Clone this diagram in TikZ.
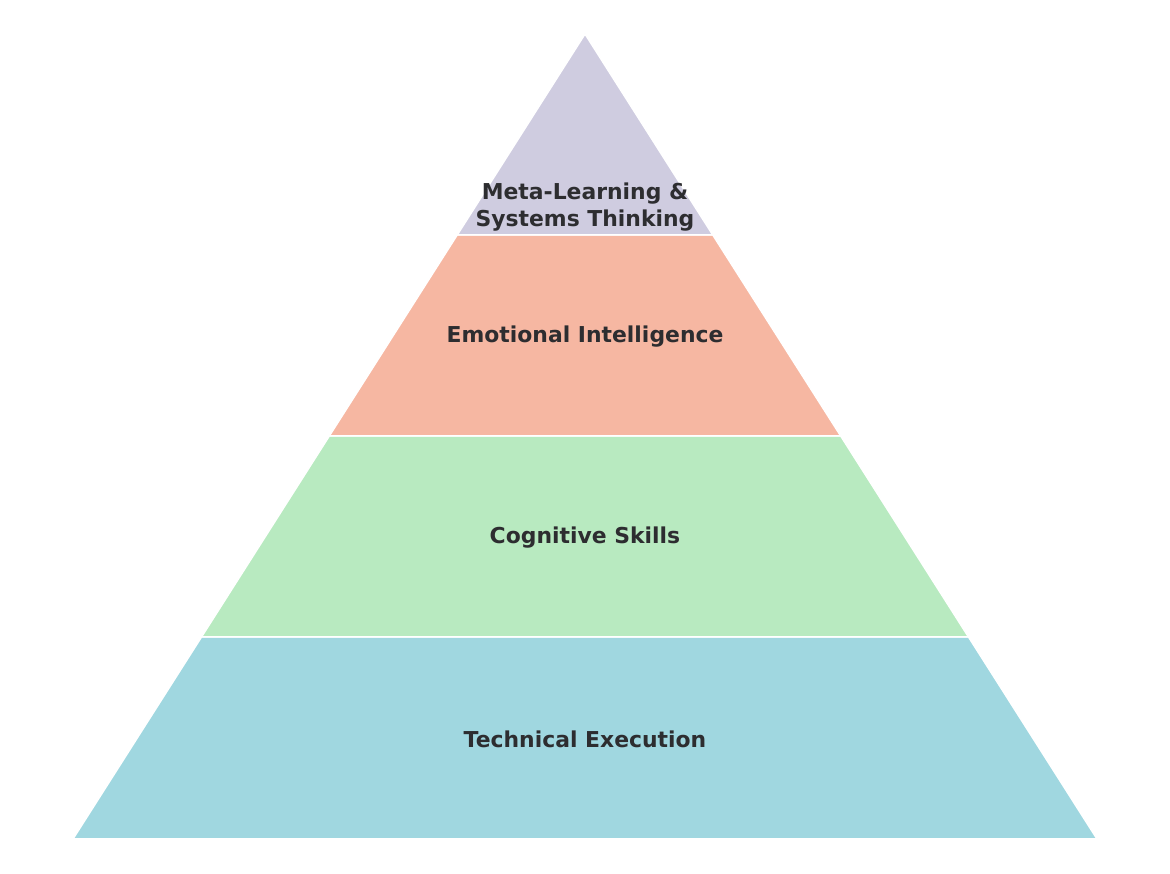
\documentclass[tikz,border=0pt]{standalone}
\usepackage{fontspec}
\setmainfont{DejaVu Sans}
\definecolor{cTop}{HTML}{CFCCE0}
\definecolor{cEmo}{HTML}{F6B7A2}
\definecolor{cCog}{HTML}{B8EAC0}
\definecolor{cTec}{HTML}{A0D7E0}
\definecolor{txt}{HTML}{2D2D30}
\begin{document}
\begin{tikzpicture}[x=1pt,y=1pt,
  layer/.style={draw=white,line width=1.5pt,line join=miter},
  lbl/.style={font=\bfseries\fontsize{21.9}{27}\selectfont,text=txt,align=center}]
\useasboundingbox (0,0) rectangle (1170,874);
\fill[white] (0,0) rectangle (1170,874);
\coordinate (apex) at (585,840);
\coordinate (l1) at (457.2,639); \coordinate (r1) at (712.8,639);
\coordinate (l2) at (329.3,438); \coordinate (r2) at (840.7,438);
\coordinate (l3) at (201.5,237); \coordinate (r3) at (968.5,237);
\coordinate (l4) at (73,35); \coordinate (r4) at (1097,35);
\filldraw[layer,fill=cTec] (l3) -- (r3) -- (r4) -- (l4) -- cycle;
\filldraw[layer,fill=cCog] (l2) -- (r2) -- (r3) -- (l3) -- cycle;
\filldraw[layer,fill=cEmo] (l1) -- (r1) -- (r2) -- (l2) -- cycle;
\filldraw[layer,fill=cTop] (apex) -- (r1) -- (l1) -- cycle;
\node[lbl] (t1) at (585,667) {Meta-Learning \&\\Systems Thinking};
\node[lbl] (t2) at (585,537) {Emotional Intelligence};
\node[lbl] (t3) at (585,336) {Cognitive Skills};
\node[lbl] (t4) at (585,135) {Technical Execution};
\end{tikzpicture}
\end{document}
